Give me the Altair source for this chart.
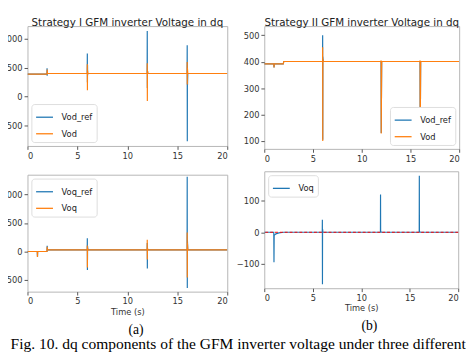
import altair as alt
import pandas as pd

# ---------------- data ----------------
TITLE_A = "Strategy I GFM inverter Voltage in dq"
TITLE_B = "Strategy II GFM inverter Voltage in dq"
CAPTION = "Fig. 10. dq components of the GFM inverter voltage under three different"
X_TICKS = [0, 5, 10, 15, 20]

# Strategy I - d axis voltage
a_vod_ref_t = [0, 1.95, 1.96, 1.97, 1.98, 2.0, 5.98, 5.99, 6.0, 6.01, 6.02, 6.05,
               11.98, 11.99, 12.0, 12.01, 12.05, 15.98, 15.99, 16.0, 16.01, 16.02, 16.05, 20]
a_vod_ref_v = [390, 390, 490, 360, 420, 400, 400, 750, 250, 550, 380, 400,
               400, 1140, 150, 450, 400, 400, 890, -780, 600, 200, 400, 400]
a_vod_t = [0, 1.95, 1.97, 2.0, 5.98, 5.99, 6.0, 6.01, 6.05,
           11.98, 11.99, 12.0, 12.01, 12.05, 15.98, 15.99, 16.0, 16.01, 16.05, 20]
a_vod_v = [390, 390, 470, 400, 400, 560, 110, 450, 400,
           400, 580, -80, 450, 400, 400, 600, 210, 500, 400, 400]

# Strategy II - d axis voltage
b_vod_ref_t = [0, 0.98, 1.0, 1.02, 1.95, 2.0, 5.98, 5.99, 6.0, 6.01, 6.05,
               11.98, 12.0, 12.05, 15.98, 16.0, 16.05, 20]
b_vod_ref_v = [392, 392, 378, 392, 392, 401, 401, 500, 105, 420, 401,
               401, 130, 401, 401, 95, 401, 401]
b_vod_t = [0, 0.98, 1.0, 1.02, 1.95, 2.0, 5.98, 5.99, 6.0, 6.01, 6.05,
           11.98, 11.99, 12.0, 12.05, 15.98, 15.99, 16.0, 16.05, 20]
b_vod_v = [392, 392, 378, 392, 392, 401, 401, 455, 100, 410, 401,
           401, 405, 128, 401, 401, 405, 95, 401, 401]

# Strategy I - q axis voltage
a_voq_t = [0, 0.98, 1.0, 1.02, 1.95, 1.97, 2.0, 5.98, 5.99, 6.0, 6.01, 6.05,
           11.98, 11.99, 12.0, 12.01, 12.05, 15.98, 15.99, 16.0, 16.01, 16.05, 20]
a_voq_ref_v = [0, 0, -90, 0, 0, 100, 30, 30, 235, -325, 100, 30,
               30, 150, -300, 50, 30, 30, 1315, -640, 200, 30, 30]
a_voq_v = [0, 0, -95, 0, 0, 85, 30, 30, 105, -280, 60, 30,
           30, 205, -140, 60, 30, 30, 335, -455, 150, 30, 30]

# Strategy II - q axis voltage
b_voq_t = [0, 0.98, 1.0, 1.02, 1.2, 1.5, 2.0, 5.98, 5.99, 6.0, 6.01, 6.05,
           11.98, 11.99, 12.0, 12.05, 15.98, 15.99, 16.0, 16.05, 20]
b_voq_v = [0, 0, -95, -10, -5, -2, 0, 0, 40, -165, 10, 0,
           0, 120, 5, 0, 0, 180, 5, 0, 0]
ref_level = [0]

BLUE = "#1f77b4"
ORANGE = "#ff7f0e"


def make_df(name, ts, vs):
    return pd.DataFrame({"series": [name] * len(ts), "t": ts, "v": vs,
                         "i": list(range(len(ts)))})


def panel(series, colors, ydom, yticks, w, h, lorient, title=None, xtitle=None, ref=None):
    names = [s[0] for s in series]
    layers = []
    for (name, ts, vs) in series:
        layers.append(
            alt.Chart(make_df(name, ts, vs)).mark_line(strokeWidth=1.2, clip=True).encode(
                x=alt.X("t:Q", scale=alt.Scale(domain=[0, 20], nice=False, zero=False),
                        axis=alt.Axis(values=X_TICKS, title=xtitle, format="d")),
                y=alt.Y("v:Q", scale=alt.Scale(domain=ydom, nice=False, zero=False),
                        axis=alt.Axis(values=yticks, title=None, format="d")),
                color=alt.Color("series:N", scale=alt.Scale(domain=names, range=colors),
                                legend=alt.Legend(title=None, orient=lorient, offset=4,
                                                  padding=4, fillColor="white",
                                                  strokeColor="#dddddd", cornerRadius=3,
                                                  symbolType="stroke", symbolSize=300,
                                                  symbolStrokeWidth=1.3, labelFontSize=8.5,
                                                  labelFont="DejaVu Sans", labelColor="#222",
                                                  rowPadding=3, labelOffset=8)),
                order=alt.Order("i:Q"),
            )
        )
    if ref is not None:
        layers.append(
            alt.Chart(pd.DataFrame({"v": ref})).mark_rule(
                color="red", strokeDash=[3, 2], strokeWidth=1).encode(y="v:Q")
        )
    ch = alt.layer(*layers).properties(width=w, height=h)
    if title is not None:
        ch = ch.properties(title=title)
    return ch


tl = panel([("Vod_ref", a_vod_ref_t, a_vod_ref_v), ("Vod", a_vod_t, a_vod_v)],
           [BLUE, ORANGE], [-860, 1225], [-500, 0, 500, 1000], 205, 123, "bottom-left",
           title=alt.TitleParams(text=TITLE_A, offset=-3))
bl = panel([("Voq_ref", a_voq_t, a_voq_ref_v), ("Voq", a_voq_t, a_voq_v)],
           [BLUE, ORANGE], [-705, 1350], [-500, 0, 500, 1000], 205, 120, "top-left",
           xtitle="Time (s)")
tr = panel([("Vod_ref", b_vod_ref_t, b_vod_ref_v), ("Vod", b_vod_t, b_vod_v)],
           [BLUE, ORANGE], [70, 535], [100, 200, 300, 400, 500], 200, 126, "bottom-right",
           title=alt.TitleParams(text=TITLE_B, offset=-3))
br = panel([("Voq", b_voq_t, b_voq_v)], [BLUE], [-178, 194], [-100, 0, 100], 199, 120,
           "top-left", xtitle="Time (s)", ref=ref_level)

sub_title = dict(orient="bottom", anchor="middle", font="Liberation Serif", fontSize=14,
                 color="black", fontWeight="normal", offset=7)

indep = dict(x="independent", y="independent", color="independent")

left = alt.vconcat(tl, bl, spacing=13.5).resolve_scale(**indep).resolve_legend(
    color="independent").properties(title=alt.TitleParams(text="(a)", dx=23, **sub_title))
right = alt.vconcat(tr, br, spacing=7).resolve_scale(**indep).resolve_legend(
    color="independent").properties(title=alt.TitleParams(text="(b)", dx=22, **sub_title))

chart = alt.concat(left, right, columns=2, spacing=7, align="none").resolve_scale(
    **indep).resolve_legend(color="independent").properties(
    title=alt.TitleParams(text=CAPTION, orient="bottom", anchor="start", dx=12,
                          font="Liberation Serif", fontSize=15.9, color="black",
                          fontWeight="normal", offset=0),
    padding={"left": -10, "top": 5, "right": 0, "bottom": 0},
).configure_view(stroke="#b5b5b5", strokeWidth=1).configure_axis(
    labelFont="DejaVu Sans", labelFontSize=8.5, labelColor="#333", tickColor="#555",
    tickSize=3.5, labelPadding=2, domain=False, grid=False, titleFont="DejaVu Sans",
    titleFontSize=8.5, titleFontWeight="normal", titleColor="#333", titlePadding=2,
).configure_title(font="DejaVu Sans", fontSize=10.6, fontWeight="normal", color="#222")

chart.save("out.html", embed_options={"renderer": "svg", "actions": False})
